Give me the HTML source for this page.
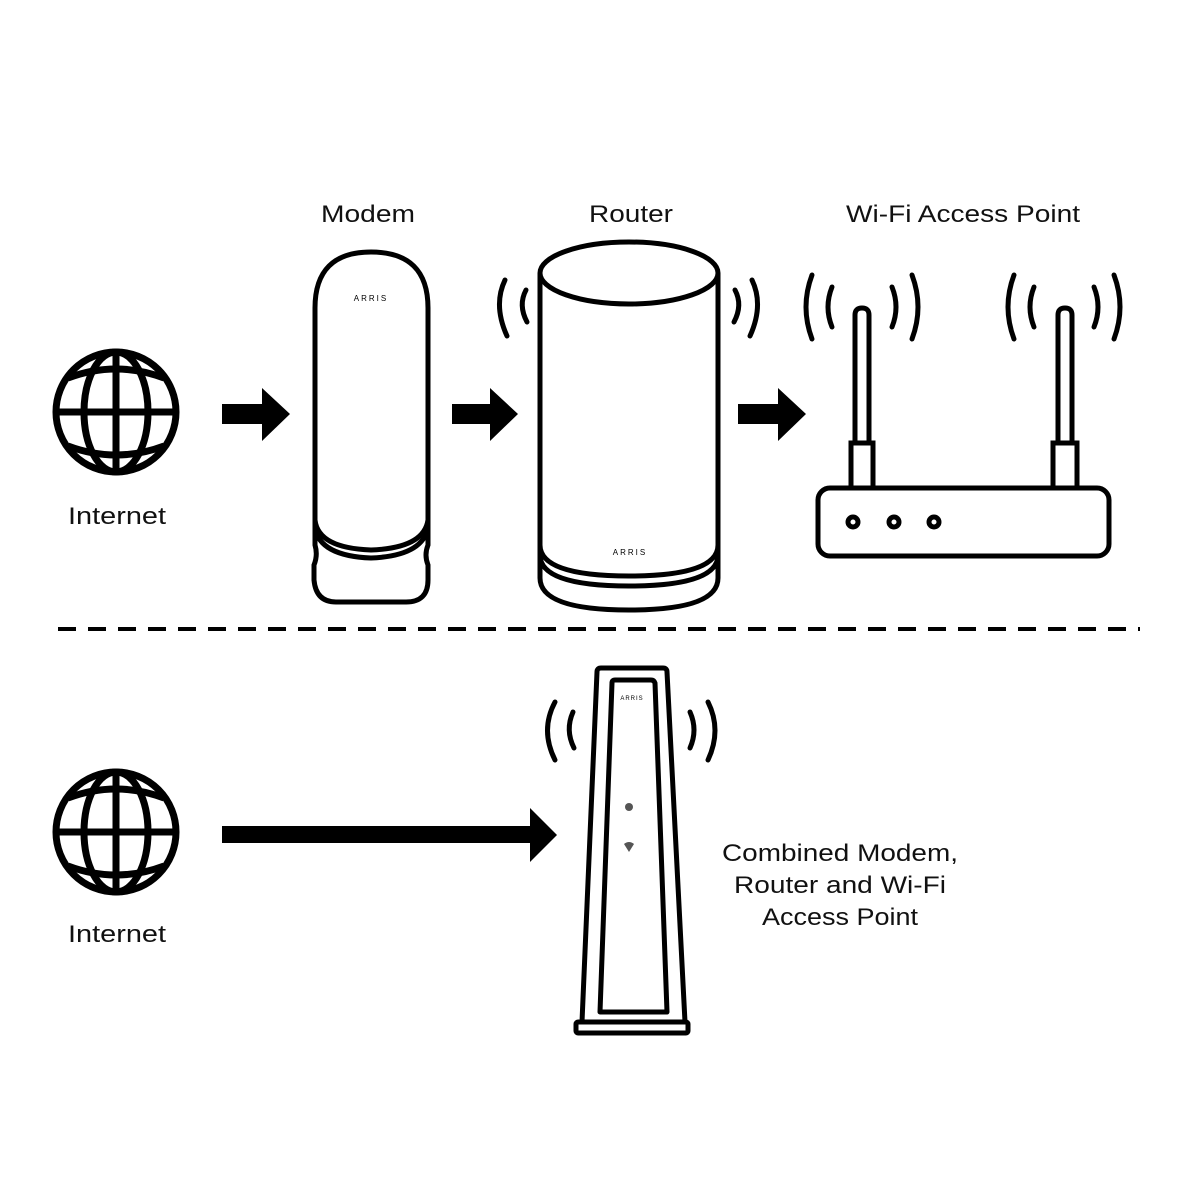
<!DOCTYPE html>
<html><head><meta charset="utf-8"><style>html,body{margin:0;padding:0;background:#fff}svg{display:block}</style></head>
<body>
<svg width="1200" height="1200" viewBox="0 0 1200 1200" xmlns="http://www.w3.org/2000/svg" font-family="Liberation Sans, sans-serif">
<rect width="1200" height="1200" fill="#fff"/>
<defs>
<g id="globe" fill="none" stroke="#000" stroke-width="7">
<circle cx="0" cy="0" r="60"/>
<ellipse cx="0" cy="0" rx="32" ry="60"/>
<line x1="0" y1="-60" x2="0" y2="60"/>
<line x1="-60" y1="0" x2="60" y2="0"/>
<path d="M-48 -34 Q0 -52 48 -34"/>
<path d="M-48 34 Q0 52 48 34"/>
</g>
<g id="waves" fill="none" stroke="#000" stroke-width="5" stroke-linecap="round">
<path d="M-30 -20 Q-38 0 -30 20"/>
<path d="M-50 -32 Q-62 0 -50 32"/>
<path d="M30 -20 Q38 0 30 20"/>
<path d="M50 -32 Q62 0 50 32"/>
</g>
</defs>
<g font-size="24" fill="#111" text-anchor="middle" lengthAdjust="spacingAndGlyphs">
<text x="368" y="222" textLength="94" lengthAdjust="spacingAndGlyphs">Modem</text>
<text x="631" y="222" textLength="84" lengthAdjust="spacingAndGlyphs">Router</text>
<text x="963" y="222" textLength="234" lengthAdjust="spacingAndGlyphs">Wi-Fi Access Point</text>
<text x="117" y="524" textLength="98" lengthAdjust="spacingAndGlyphs">Internet</text>
<text x="117" y="942" textLength="98" lengthAdjust="spacingAndGlyphs">Internet</text>
<text x="840" y="861" textLength="236" lengthAdjust="spacingAndGlyphs">Combined Modem,</text>
<text x="840" y="893" textLength="212" lengthAdjust="spacingAndGlyphs">Router and Wi-Fi</text>
<text x="840" y="925" textLength="156" lengthAdjust="spacingAndGlyphs">Access Point</text>
</g>
<use href="#globe" x="116" y="412"/>
<use href="#globe" x="116" y="832"/>
<g fill="#000">
<path d="M222 404 H262 V388 L290 414 L262 441 V424 H222Z"/>
<path d="M452 404 H490 V388 L518 414 L490 441 V424 H452Z"/>
<path d="M738 404 H778 V388 L806 414 L778 441 V424 H738Z"/>
<path d="M222 826 H530 V808 L557 835 L530 862 V843 H222Z"/>
</g>
<g fill="none" stroke="#000" stroke-width="5">
<path d="M315 520 V308 Q315 252 371 252 Q428 252 428 308 V520"/>
<path d="M315 520 Q318 548 371 550 Q424 548 428 520"/>
<path d="M315 528 Q320 556 371 558 Q422 556 428 528"/>
<path d="M315 520 V545 Q318 555 314 565 V580 Q316 602 336 602 H406 Q428 602 428 580 V565 Q424 555 428 545 V520"/>
</g>
<text x="371" y="301" font-size="8" text-anchor="middle" letter-spacing="2">ARRIS</text>
<g fill="none" stroke="#000" stroke-width="5">
<ellipse cx="629" cy="273" rx="89" ry="31"/>
<path d="M540 273 V578 Q540 610 629 610 Q718 610 718 578 V273"/>
<path d="M540 545 Q540 576 629 576 Q718 576 718 545"/>
<path d="M540 555 Q540 586 629 586 Q718 586 718 555"/>
</g>
<text x="630" y="555" font-size="8" text-anchor="middle" letter-spacing="2">ARRIS</text>
<g fill="none" stroke="#000" stroke-width="5" stroke-linecap="round">
<path d="M505 280 Q493 305 507 336"/><path d="M526 290 Q518 305 527 322"/>
<path d="M735 290 Q743 305 734 322"/><path d="M752 280 Q764 305 750 336"/>
</g>
<use href="#waves" x="862" y="307"/>
<use href="#waves" x="1064" y="307"/>
<g fill="#fff" stroke="#000" stroke-width="5">
<path d="M855 442 V315 Q855 308 862 308 Q869 308 869 315 V442"/>
<path d="M1058 442 V315 Q1058 308 1065 308 Q1072 308 1072 315 V442"/>
<rect x="851" y="443" width="22" height="46"/>
<rect x="1053" y="443" width="24" height="46"/>
<rect x="818" y="488" width="291" height="68" rx="12"/>
<circle cx="853" cy="522" r="5"/>
<circle cx="894" cy="522" r="5"/>
<circle cx="934" cy="522" r="5"/>
</g>
<line x1="58" y1="629" x2="1140" y2="629" stroke="#000" stroke-width="4" stroke-dasharray="18 12"/>
<g fill="none" stroke="#000" stroke-width="5">
<path d="M582 1022 L597 672 Q597 668 601 668 H663 Q667 668 667 672 L685 1022"/>
<path d="M600 1012 L612 683 Q612 680 615 680 H651 Q654 680 655 683 L667 1012 Z" stroke-linejoin="round"/>
<rect x="576" y="1022" width="112" height="11" rx="2"/>
</g>
<circle cx="629" cy="807" r="4" fill="#555"/>
<path d="M624 844 Q629 840 634 844 L629 852Z" fill="#555"/>
<text x="632" y="700" font-size="6" text-anchor="middle" letter-spacing="1">ARRIS</text>
<g fill="none" stroke="#000" stroke-width="5" stroke-linecap="round">
<path d="M555 702 Q540 730 555 760"/><path d="M573 712 Q565 730 574 748"/>
<path d="M690 712 Q698 730 690 748"/><path d="M708 702 Q722 730 708 760"/>
</g>
</svg>
</body></html>
